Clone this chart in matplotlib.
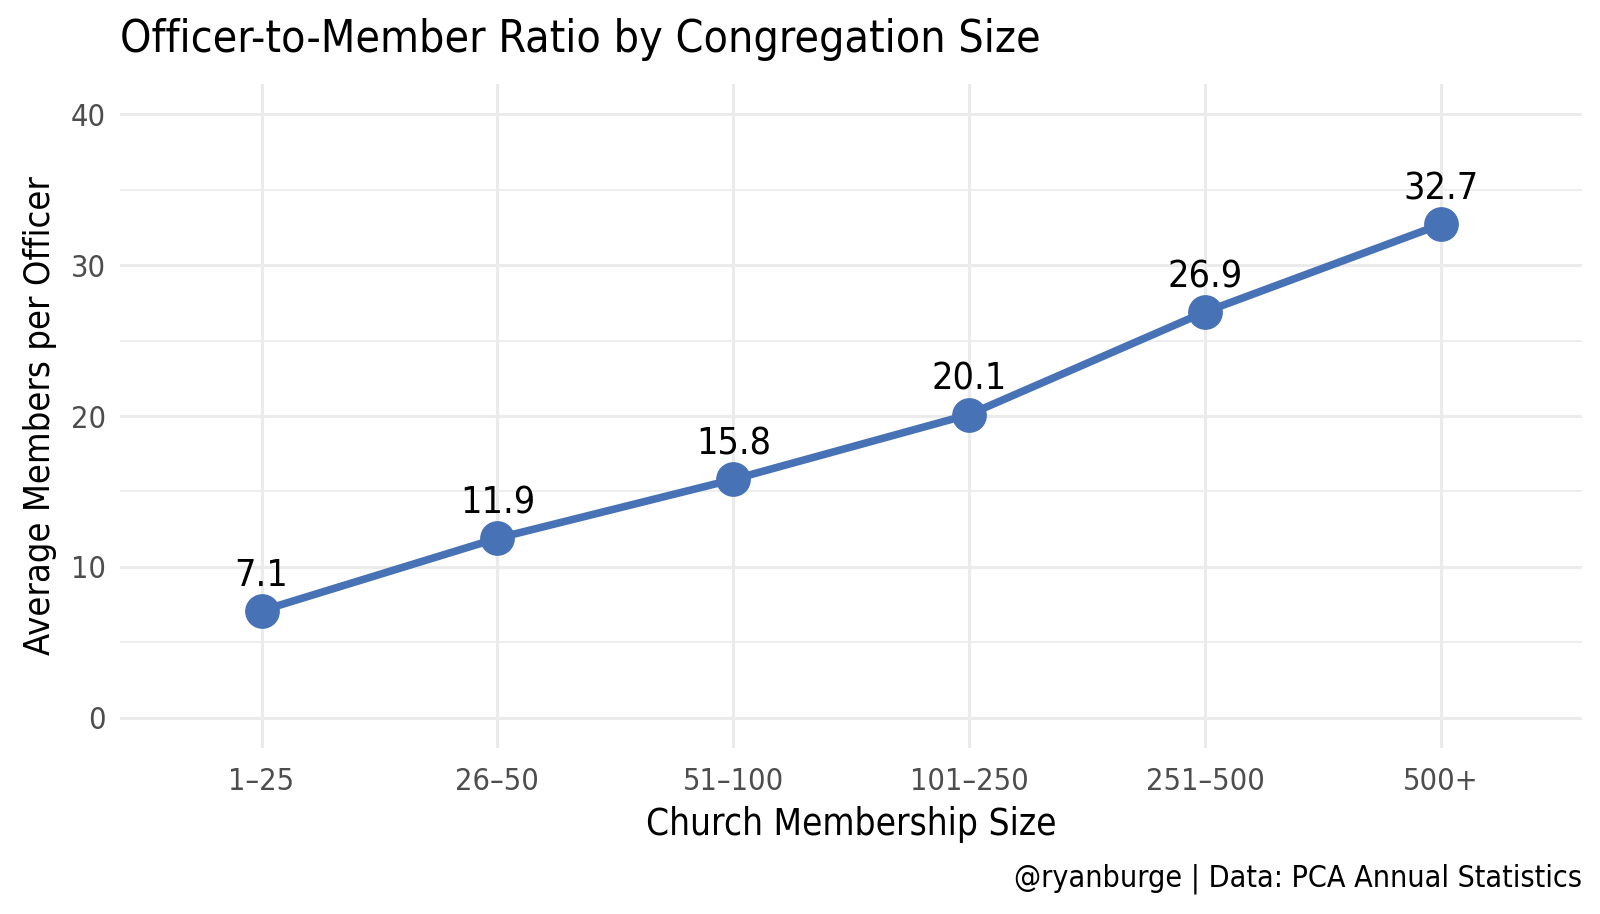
import matplotlib
matplotlib.use('Agg')
import matplotlib.pyplot as plt
from matplotlib.ticker import MultipleLocator

categories = ['1–25', '26–50', '51–100', '101–250', '251–500', '500+']
ratios = [7.1, 11.9, 15.8, 20.1, 26.9, 32.7]
y_ticks = [0, 10, 20, 30, 40]

plt.rcParams['font.family'] = ['DejaVu Sans']
plt.rcParams['font.stretch'] = 'condensed'

line_color = '#4872b6'
grid_color = '#ebebeb'

fig = plt.figure(figsize=(16, 9.14), dpi=100)
ax = fig.add_axes([0.075, 0.1816, 0.914, 0.7264])

x = list(range(len(categories)))
ax.plot(x, ratios, color=line_color, lw=5.5, zorder=3,
        marker='o', markersize=24, markerfacecolor=line_color, markeredgecolor=line_color)
for xi, v in zip(x, ratios):
    ax.text(xi, v + 2.3, f'{v:.1f}', ha='center', va='center', fontsize=27, color='black', zorder=4)

ax.set_xlim(-0.6, len(categories) - 0.4)
ax.set_ylim(-2, 42)
ax.set_xticks(x)
ax.set_xticklabels(categories)
ax.set_yticks(y_ticks)
ax.yaxis.set_minor_locator(MultipleLocator(5))

ax.grid(which='major', color=grid_color, lw=2.2)
ax.grid(which='minor', axis='y', color=grid_color, lw=1.2)
ax.set_axisbelow(True)
for s in ax.spines.values():
    s.set_visible(False)
ax.tick_params(which='both', length=0)
ax.tick_params(axis='both', labelsize=22, labelcolor='#4d4d4d')
ax.tick_params(axis='x', pad=14)
ax.tick_params(axis='y', pad=10)

ax.set_xlabel('Church Membership Size', fontsize=26.5, labelpad=7)
ax.set_ylabel('Average Members per Officer', fontsize=26, labelpad=10)

fig.text(0.075, 0.957, 'Officer-to-Member Ratio by Congregation Size', fontsize=32,
         ha='left', va='center')
fig.text(0.989, 0.039, '@ryanburge | Data: PCA Annual Statistics', fontsize=21.8,
         ha='right', va='center')

fig.savefig('out.png', dpi=100, facecolor='white')
